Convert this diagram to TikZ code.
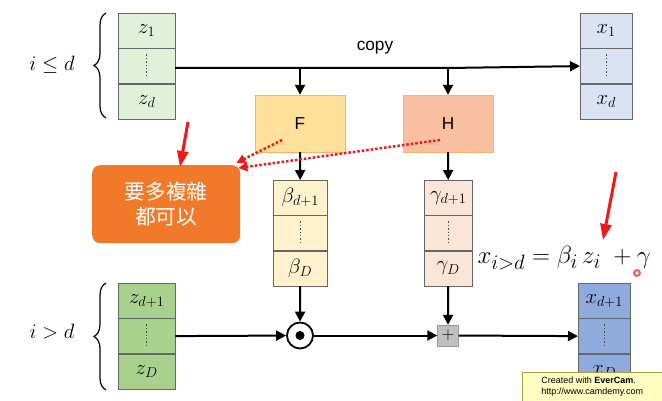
\documentclass[tikz,border=0pt]{standalone}
\usepackage{fontspec}
\setsansfont{Liberation Sans}
\newfontfamily\cjk{Noto Sans CJK TC}
\usetikzlibrary{arrows.meta,decorations.pathreplacing}
\definecolor{zl}{HTML}{E2EFD9}\definecolor{zd}{HTML}{A9D18E}
\definecolor{xl}{HTML}{DAE3F3}\definecolor{xd}{HTML}{8FAADC}
\definecolor{ff}{HTML}{FFE09A}\definecolor{hh}{HTML}{F8C0A0}
\definecolor{bb}{HTML}{FFF2CC}\definecolor{gg}{HTML}{FBE5D6}
\definecolor{og}{HTML}{F07A2A}\definecolor{rr}{HTML}{F01818}
\begin{document}
\begin{tikzpicture}[x=1pt,y=-1pt,
 cell/.style={draw=black!60,minimum width=#1,minimum height=35,inner sep=0,font=\huge},
 ln/.style={line width=2pt,-{Triangle[length=10pt,width=10pt]}},
 brc/.style={decorate,decoration={brace,amplitude=12pt},line width=1.2pt},
 red/.style={rr,line width=2.5pt,dotted,-{Triangle[length=9pt,width=9pt]}}]
\useasboundingbox (0,0) rectangle (662,401);
\newcommand\stk[7]{% name x y w fill top bottom
 \node[cell=#4,fill=#5,anchor=north west] (#1a) at (#2,#3) {#6};
 \node[cell=#4,fill=#5,anchor=north] (#1b) at (#1a.south) {};
 \node[cell=#4,fill=#5,anchor=north] (#1c) at (#1b.south) {#7};
 \draw[black!70,line width=1.4pt,dotted] ([yshift=-6]#1b.north) -- ([yshift=6]#1b.south);}
\stk{z}{118}{13}{57}{zl}{$z_1$}{$z_d$}
\stk{x}{580}{13}{52}{xl}{$x_1$}{$x_d$}
\stk{w}{118}{283}{57}{zd}{$z_{d+1}$}{$z_D$}
\stk{y}{578}{283}{52}{xd}{$x_{d+1}$}{$x_D$}
\stk{b}{273}{180}{54}{bb}{$\beta_{d+1}$}{$\beta_D$}
\stk{g}{424}{180}{48}{gg}{$\gamma_{d+1}$}{$\gamma_D$}
\draw[brc] (106,118) -- (106,13);
\draw[brc] (106,390) -- (106,283);
\node[font=\huge] (l1) at (52,65) {$i\le d$};
\node[font=\huge] (l2) at (52,332) {$i> d$};
\node[draw=orange!60,fill=ff,minimum width=90,minimum height=57,font=\sffamily\LARGE] (F) at (300,123.5) {F};
\node[draw=orange!60,fill=hh,minimum width=90,minimum height=57,font=\sffamily\LARGE] (H) at (448,123.5) {H};
\coordinate (c0) at (175,68);\coordinate (cf) at (300,68);\coordinate (ch) at (448,68);
\draw[ln] (c0) -- (cf) -- (ch) -- (xb.west);
\node[font=\sffamily\LARGE] (cp) at (375,48) {copy};
\draw[ln] (cf) -- (F.north);
\draw[ln] (ch) -- (H.north);
\draw[ln] (F.south) -- (ba.north);
\draw[ln] (H.south) -- (ga.north);
\node[draw,circle,line width=1.8pt,minimum size=26,inner sep=0,fill=white] (od) at (300,335.5) {};
\fill (od) circle (4.5);
\node[draw=black!40,fill=black!25,minimum size=21,inner sep=0,font=\LARGE] (pl) at (448,335.5) {$+$};
\draw[ln] (wb.east) -- (od);
\draw[ln] (od) -- (pl);
\draw[ln] (pl) -- (yb.west);
\draw[ln] (bc.south) -- (od);
\draw[ln] (gc.south) -- (pl);
\node[fill=og,rounded corners=8pt,minimum width=148,minimum height=78,anchor=north west,text=white,font=\cjk\huge,align=center] (o) at (92,165) {要多複雜\\都可以};
\draw[red] (282,140) -- ([xshift=-4,yshift=2]o.north east);
\draw[red] (440,140) -- ([xshift=-2,yshift=-3]o.north east);
\draw[rr,line width=3pt,-{Triangle[length=16pt,width=11pt]}] (188,122) -- (180,167);
\draw[rr,line width=3pt,-{Triangle[length=16pt,width=11pt]}] (616,172) -- (603,240);
\node[anchor=west,font=\Huge] (eq) at (474,258) {$x_{i>d}=\beta_i\,z_i\;+\gamma$};
\fill[rr!70] (637,273) circle (4); \fill[white] (637,273) circle (1.8);
\node[fill=yellow!25,draw=yellow!60!black,anchor=north west,inner sep=2pt,font=\sffamily\small,align=left,minimum width=140,minimum height=29] (ev) at (522,372) {Created with \textbf{EverCam}.\\http://www.camdemy.com};
\end{tikzpicture}
\end{document}
